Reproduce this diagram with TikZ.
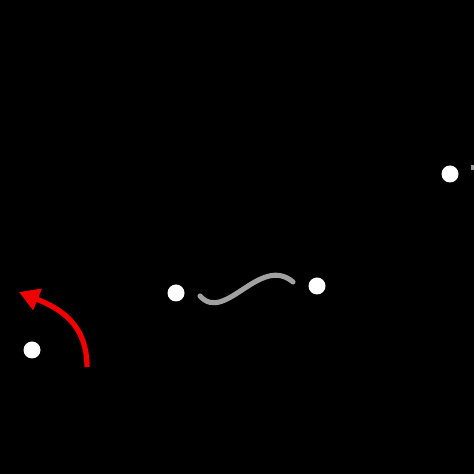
\documentclass[tikz,border=0pt]{standalone}
\usepackage{xcolor}
\usepackage{tikz}
\usetikzlibrary{arrows.meta}
\usetikzlibrary{positioning,calc}

\begin{document}
\begin{tikzpicture}[dot/.style={circle, fill=white, minimum size=0.34cm, inner sep=0pt},
	wave/.style={line width=2.9pt, color=black!37, line cap=round},
	turn/.style={line width=3pt, color=red!95!black, -{Triangle[length=0.4cm, width=0.44cm]}}]
			\useasboundingbox (0,0) rectangle (9.48,9.48);
			\fill[black] (0,0) rectangle (9.48,9.48);
			\node[dot] (a) at (0.64,2.48) {};
			\node[dot] (b) at (3.52,3.62) {};
			\node[dot] (c) at (6.34,3.76) {};
			\node[dot] (d) at (9.00,6.00) {};
			\fill[black!40] (9.41,6.08) rectangle (9.48,6.17);
			\coordinate (w1) at ($(b)+(0.48,-0.06)$);
			\coordinate (w2) at ($(c)+(-0.48,0.08)$);
			\draw[wave] (w1) .. controls (4.5,3.0) and (5.2,4.4) .. (w2);
			\coordinate (r1) at ($(a)+(1.10,-0.34)$);
			\coordinate (r2) at ($(a)+(-0.26,1.16)$);
			\draw[turn] (r1) to[out=90, in=-22, looseness=1.1] (r2);
		\end{tikzpicture}
\end{document}
